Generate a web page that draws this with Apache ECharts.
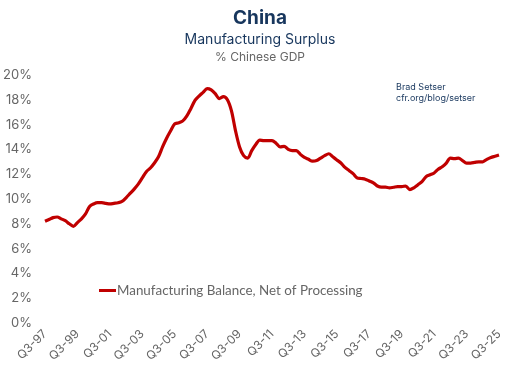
<!DOCTYPE html>
<html>
<head>
<meta charset="utf-8">
<script src="https://cdn.jsdelivr.net/npm/echarts@6/dist/echarts.min.js"></script>
<style>
  html, body { margin: 0; padding: 0; background: #fff; }
  #chart { width: 520px; height: 377px; }
</style>
</head>
<body>
<div id="chart"></div>
<script>
// quarterly, Q3-97 .. Q3-25
var startYear = 1997;
var startQuarter = 3;
var quarterCount = 113;

// Manufacturing balance, net of processing (% of GDP)
var manufacturingBalance = [
  8.2, 8.35, 8.5, 8.55, 8.4, 8.25, 8.0, 7.8, 8.1, 8.4,
  8.8, 9.4, 9.6, 9.7, 9.7, 9.65, 9.6, 9.65, 9.7, 9.8,
  10.1, 10.45, 10.8, 11.2, 11.7, 12.2, 12.5, 12.9, 13.4, 14.2,
  14.9, 15.5, 16.05, 16.15, 16.3, 16.7, 17.3, 17.95, 18.3, 18.6,
  18.9, 18.8, 18.5, 18.1, 18.25, 18.0, 17.1, 15.5, 14.2, 13.5,
  13.3, 13.9, 14.4, 14.75, 14.7, 14.7, 14.7, 14.5, 14.2, 14.25,
  14.0, 13.9, 13.9, 13.6, 13.35, 13.2, 13.05, 13.1, 13.3, 13.5,
  13.65, 13.4, 13.15, 12.9, 12.55, 12.3, 12.05, 11.7, 11.65, 11.6,
  11.45, 11.3, 11.05, 10.95, 10.95, 10.9, 10.95, 11.0, 11.0, 11.05,
  10.75, 10.9, 11.15, 11.4, 11.8, 11.95, 12.1, 12.4, 12.6, 12.9,
  13.3, 13.25, 13.3, 13.1, 12.9, 12.9, 12.95, 13.0, 13.0, 13.2,
  13.35, 13.45, 13.55
];

var yTicks = [0, 2, 4, 6, 8, 10, 12, 14, 16, 18, 20];

// build quarter labels like "Q3-97"
var quarters = [];
for (var i = 0; i < quarterCount; i++) {
  var q = (startQuarter - 1 + i) % 4 + 1;
  var y = startYear + Math.floor((startQuarter - 1 + i) / 4);
  quarters.push('Q' + q + '-' + String(y % 100).padStart(2, '0'));
}

var navy = '#17365d';
var grey = '#666666';

var myChart = echarts.init(document.getElementById('chart'));
myChart.setOption({
  animation: false,
  textStyle: { fontFamily: 'Inter, Roboto, sans-serif' },
  title: [
    {
      text: 'China', left: 'center', top: 4,
      textStyle: { color: navy, fontSize: 19, fontWeight: 'bold' }
    },
    {
      text: 'Manufacturing Surplus', left: 'center', top: 28,
      textStyle: { color: navy, fontSize: 14, fontWeight: 'normal' }
    },
    {
      text: '% Chinese GDP', left: 'center', top: 46,
      textStyle: { color: grey, fontSize: 12, fontWeight: 'normal' }
    }
  ],
  graphic: [
    {
      type: 'text', left: 396, top: 82,
      style: {
        text: 'Brad Setser\ncfr.org/blog/setser',
        fill: navy, fontSize: 9, lineHeight: 11,
        fontFamily: 'Inter, Roboto, sans-serif'
      }
    }
  ],
  legend: {
    left: 94, top: 279,
    icon: 'rect', itemWidth: 17, itemHeight: 3, itemGap: 2,
    textStyle: { color: grey, fontSize: 13.4, fontFamily: 'Lato, sans-serif', padding: [0, 0, 0, -4] }
  },
  grid: { left: 45, right: 21, top: 75, bottom: 54 },
  xAxis: {
    type: 'category',
    data: quarters,
    boundaryGap: false,
    axisLine: { show: false },
    axisTick: { show: false },
    axisLabel: {
      interval: 7, rotate: 45, margin: 9,
      color: grey, fontSize: 12
    }
  },
  yAxis: {
    type: 'value',
    min: yTicks[0], max: yTicks[yTicks.length - 1], interval: 2,
    axisLine: { show: false },
    axisTick: { show: false },
    splitLine: { show: false },
    axisLabel: { color: grey, fontSize: 13, margin: 13, formatter: '{value}%' }
  },
  series: [{
    type: 'line',
    name: 'Manufacturing Balance, Net of Processing',
    data: manufacturingBalance,
    smooth: 0.3,
    showSymbol: false,
    color: '#c00000',
    lineStyle: { width: 3.2, color: '#c00000' }
  }]
});
</script>
</body>
</html>
